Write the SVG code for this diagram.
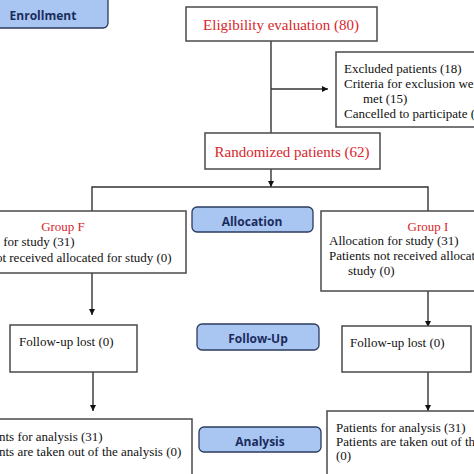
<svg xmlns="http://www.w3.org/2000/svg" width="474" height="474" viewBox="0 0 474 474">
<style>
.box{fill:#fff;stroke:#4a4a4a;stroke-width:1.5}
.lbl{fill:#a9c6f3;stroke:#2b3b5e;stroke-width:1.3}
.lt{font-family:"Open Sans",sans-serif;font-weight:bold;font-size:12px;fill:#1b2c5c;text-anchor:middle}
.t{font-family:"Liberation Serif","Times New Roman",serif;font-size:13px;fill:#111}
.r{font-family:"Liberation Serif","Times New Roman",serif;fill:#d8262b;text-anchor:middle}
.ln{stroke:#333;stroke-width:1.4;fill:none}
</style>
<defs>
<marker id="ah" viewBox="0 0 10 10" refX="10" refY="5" markerWidth="6" markerHeight="6" markerUnits="userSpaceOnUse" orient="auto">
<path d="M0,0 L10,5 L0,10 z" fill="#111"/>
</marker>
</defs>
<g id="connectors">
<line class="ln" x1="271" y1="41" x2="271" y2="133"/>
<line class="ln" x1="271" y1="89" x2="328" y2="89" marker-end="url(#ah)"/>
<line class="ln" x1="271" y1="169" x2="271" y2="187" marker-end="url(#ah)"/>
<polyline class="ln" points="92,211 92,187 428,187 428,211"/>
<line class="ln" x1="92" y1="273" x2="92" y2="315" marker-end="url(#ah)"/>
<line class="ln" x1="93" y1="372" x2="93" y2="411" marker-end="url(#ah)"/>
<line class="ln" x1="428" y1="291" x2="428" y2="327" marker-end="url(#ah)"/>
<line class="ln" x1="428" y1="372" x2="428" y2="411" marker-end="url(#ah)"/>
</g>
<g id="enrollment">
<rect class="lbl" x="-10" y="-4" width="118" height="32" rx="5"/>
<text class="lt" x="43" y="20">Enrollment</text>
</g>
<g id="allocation">
<rect class="lbl" x="192" y="207" width="121" height="25" rx="5"/>
<text class="lt" x="252" y="226">Allocation</text>
</g>
<g id="followup-label">
<rect class="lbl" x="197" y="324" width="122" height="26" rx="5"/>
<text class="lt" x="258" y="343">Follow-Up</text>
</g>
<g id="analysis-label">
<rect class="lbl" x="199" y="427" width="122" height="25" rx="5"/>
<text class="lt" x="260" y="446">Analysis</text>
</g>
<g id="eligibility">
<rect class="box" x="186" y="7" width="191" height="34"/>
<text class="r" x="281" y="30" font-size="15">Eligibility evaluation (80)</text>
</g>
<g id="excluded">
<rect class="box" x="336" y="52" width="150" height="75"/>
<text class="t" x="344" y="73">Excluded patients (18)</text>
<text class="t" x="344" y="88">Criteria for exclusion were</text>
<text class="t" x="363" y="103">met (15)</text>
<text class="t" x="344" y="118">Cancelled to participate (3)</text>
</g>
<g id="randomized">
<rect class="box" x="205" y="133" width="175" height="36"/>
<text class="r" x="292" y="157" font-size="15">Randomized patients (62)</text>
</g>
<g id="groupF">
<rect class="box" x="-62" y="211" width="248" height="62"/>
<text class="r" x="63" y="231" font-size="13">Group F</text>
<text class="t" x="-55" y="246">Allocation for study (31)</text>
<text class="t" x="-55" y="262">Patients not received allocated for study (0)</text>
</g>
<g id="groupI">
<rect class="box" x="321" y="211" width="214" height="80"/>
<text class="r" x="428" y="231" font-size="13">Group I</text>
<text class="t" x="329" y="245">Allocation for study (31)</text>
<text class="t" x="329" y="260">Patients not received allocated for</text>
<text class="t" x="348" y="275">study (0)</text>
</g>
<g id="followupF">
<rect class="box" x="10" y="325" width="127" height="47"/>
<text class="t" x="19" y="346">Follow-up lost (0)</text>
</g>
<g id="followupI">
<rect class="box" x="342" y="326" width="129" height="46"/>
<text class="t" x="350" y="347">Follow-up lost (0)</text>
</g>
<g id="analysisF">
<rect class="box" x="-40" y="419" width="232" height="60"/>
<text class="t" x="-27" y="441">Patients for analysis (31)</text>
<text class="t" x="-27" y="456">Patients are taken out of the analysis (0)</text>
</g>
<g id="analysisI">
<rect class="box" x="327" y="411" width="230" height="70"/>
<text class="t" x="336" y="432">Patients for analysis (31)</text>
<text class="t" x="336" y="446">Patients are taken out of the analysis</text>
<text class="t" x="336" y="460">(0)</text>
</g>
</svg>
